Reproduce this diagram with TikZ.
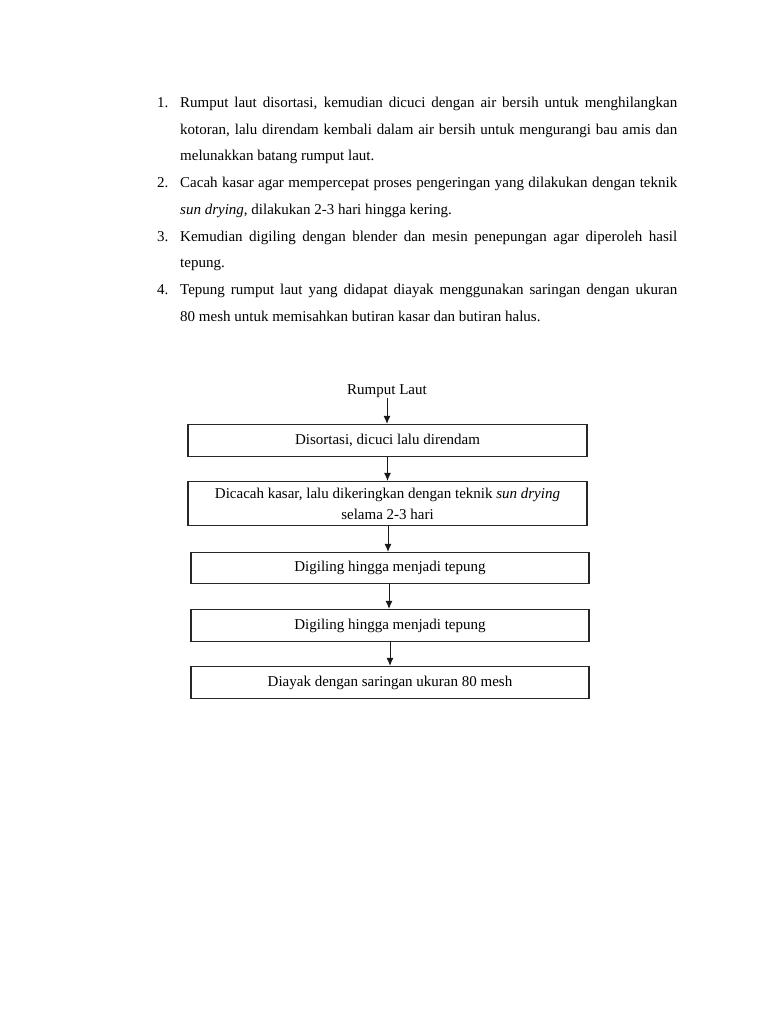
\documentclass[tikz,border=0pt]{standalone}
\usepackage{fontspec}
\setmainfont{Liberation Serif}
\usetikzlibrary{arrows.meta}
\begin{document}
\begin{tikzpicture}[x=1pt,y=-1pt,
  txt/.style={anchor=base west,inner sep=0pt,font=\fontsize{15}{21}\selectfont},
  num/.style={anchor=base west,inner sep=0pt,font=\fontsize{15}{21}\selectfont},
  box/.style={draw=black!85,line width=1.2pt,inner sep=2pt,align=center,
    font=\fontsize{15}{21}\selectfont},
  arr/.style={draw=black!90,line width=1pt,-{Latex[length=8pt,width=7pt]}}]
\useasboundingbox[fill=white] (0,0) rectangle (768,1024);
% numbered list
\def\jl#1{\makebox[497pt][s]{#1}}
\node[num] (n1) at (157,107.5) {1.};
\node[txt] (l1a) at (180,107.5) {\jl{Rumput laut disortasi, kemudian dicuci dengan air bersih untuk menghilangkan}};
\node[txt] (l1b) at (180,134.2) {\jl{kotoran, lalu direndam kembali dalam air bersih untuk mengurangi bau amis dan}};
\node[txt] (l1c) at (180,160.9) {melunakkan batang rumput laut.};
\node[num] (n2) at (157,187.6) {2.};
\node[txt] (l2a) at (180,187.6) {\jl{Cacah kasar agar mempercepat proses pengeringan yang dilakukan dengan teknik}};
\node[txt] (l2b) at (180,214.3) {\textit{sun drying}, dilakukan 2-3 hari hingga kering.};
\node[num] (n3) at (157,241) {3.};
\node[txt] (l3a) at (180,241) {\jl{Kemudian digiling dengan blender dan mesin penepungan agar diperoleh hasil}};
\node[txt] (l3b) at (180,267.7) {tepung.};
\node[num] (n4) at (157,294.4) {4.};
\node[txt] (l4a) at (180,294.4) {\jl{Tepung rumput laut yang didapat diayak menggunakan saringan dengan ukuran}};
\node[txt] (l4b) at (180,321.1) {80 mesh untuk memisahkan butiran kasar dan butiran halus.};
% flowchart
\node[anchor=base,inner sep=1pt,font=\fontsize{15}{21}\selectfont] (rl) at (387,394) {Rumput Laut};
\node[box,minimum width=399pt,minimum height=32pt] (b1) at (387.5,440.5) {Disortasi, dicuci lalu direndam};
\node[box,minimum width=399pt,minimum height=44pt] (b2) at (387.5,503.5) {Dicacah kasar, lalu dikeringkan dengan teknik \textit{sun drying}\\selama 2-3 hari};
\node[box,minimum width=398pt,minimum height=31pt] (b3) at (390,568) {Digiling hingga menjadi tepung};
\node[box,minimum width=398pt,minimum height=32pt] (b4) at (390,625.5) {Digiling hingga menjadi tepung};
\node[box,minimum width=398pt,minimum height=32pt] (b5) at (390,682.5) {Diayak dengan saringan ukuran 80 mesh};
\draw[arr] (rl.south) -- (rl.south |- b1.north);
\draw[arr] (b1.south) -- (b1.south |- b2.north);
\draw[arr] ([xshift=0.5pt]b2.south) -- ([xshift=0.5pt]b2.south |- b3.north);
\draw[arr] ([xshift=-1pt]b3.south) -- ([xshift=-1pt]b3.south |- b4.north);
\draw[arr] (b4.south) -- (b4.south |- b5.north);
\end{tikzpicture}
\end{document}
